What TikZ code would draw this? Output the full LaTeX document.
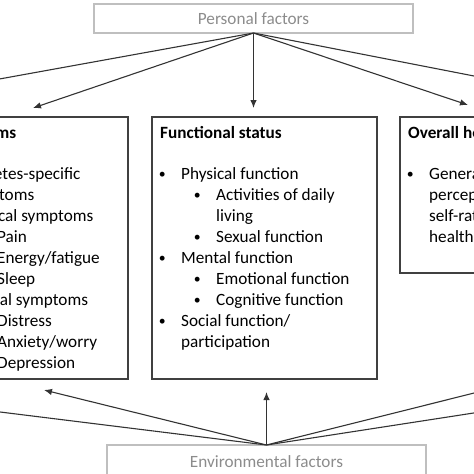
\documentclass[tikz,border=0pt]{standalone}
\usepackage{fontspec}
\setmainfont{Carlito}
\usepackage{tikz}
\usetikzlibrary{arrows.meta}
\definecolor{hqdark}{HTML}{404040}
\definecolor{hqline}{HTML}{333333}
\definecolor{factline}{HTML}{BFBFBF}
\definecolor{facttext}{HTML}{8C8C8C}
\newcommand{\bul}{\llap{\makebox[0pt]{\raisebox{1pt}{\scalebox{0.8}{\textbullet}}}\hspace{19pt}}}

\begin{document}
\begin{tikzpicture}[
  x=1pt,y=-1pt,
  font=\fontsize{17.2}{21.1}\selectfont,
  factor/.style={rectangle,draw=factline,line width=1.8pt,text=facttext,minimum width=319pt,inner sep=0pt,outer sep=0pt},
  hqbox/.style={rectangle,draw=hqdark,line width=1.4pt,inner sep=0pt,outer sep=0pt},
  hdr/.style={anchor=base west,inner sep=0pt,font=\fontsize{17.2}{21.1}\selectfont\bfseries},
  itm/.style={anchor=base west,inner sep=0pt},
  arr/.style={draw=hqline,line width=1.1pt,-{Latex[length=8pt,width=6.5pt]}},
]
\useasboundingbox (0,0) rectangle (474,474);
\clip (0,0) rectangle (474,474);

% factor boxes
\node[factor,minimum height=29pt] (pers) at (253.5,18.5) {Personal factors};
\node[factor,minimum height=33pt] (env) at (266.5,461.5) {Environmental factors};

% hrqol boxes
\node[hqbox,minimum width=195pt,minimum height=262pt] (sympt) at (30.5,248) {};
\node[hqbox,minimum width=225pt,minimum height=262pt] (func) at (264.5,248) {};
\node[hqbox,minimum width=200pt,minimum height=156pt] (overall) at (500,195) {};

% box texts
\node[hdr] (sympt-t) at (-59,138) {Symptoms};
\foreach \k/\dx/\t in {0/29/{\bul Diabetes-specific},1/29/symptoms,2/29/{\bul Physical symptoms},
    3/64/{\bul Pain},4/64/{\bul Energy/fatigue},5/64/{\bul Sleep},6/29/{\bul Mental symptoms},
    7/64/{\bul Distress},8/64/{\bul Anxiety/worry},9/64/{\bul Depression}}
  \node[itm] (sympt-\k) at (-67+\dx,179+21.1*\k) {\t};

\node[hdr] (func-t) at (160,138) {Functional status};
\foreach \k/\dx/\t in {0/29/{\bul Physical function},1/64/{\bul Activities of daily},2/64/living,
    3/64/{\bul Sexual function},4/29/{\bul Mental function},5/64/{\bul Emotional function},
    6/64/{\bul Cognitive function},7/29/{\bul Social function/},8/29/participation}
  \node[itm] (func-\k) at (152+\dx,179+21.1*\k) {\t};

\node[hdr] (overall-t) at (408,138) {Overall health};
\foreach \k/\t in {0/{\bul General health},1/{perceptions/},2/self-rated,3/health}
  \node[itm] (overall-\k) at (429,179+21.1*\k) {\t};

% arrow ends
\coordinate (symptT) at (33,108);
\coordinate (funcT) at (253.5,108);
\coordinate (overallT) at (468,105);
\coordinate (farL) at (-100,97);
\coordinate (farR) at (574,95.5);
\coordinate (symptB) at (44,390);
\coordinate (funcB) at (266.5,392);
\coordinate (envL) at (-100,399.6);
\coordinate (envR) at (574,368);
\coordinate (envRR) at (574,397.5);

% personal factors
\draw[arr] (pers.south) -- (farL);
\draw[arr] (pers.south) -- (symptT);
\draw[arr] (pers.south) -- (funcT);
\draw[arr] (pers.south) -- (overallT);
\draw[arr] (pers.south) -- (farR);

% environmental factors
\draw[arr] (env.north) -- (envL);
\draw[arr] (env.north) -- (symptB);
\draw[arr] (env.north) -- (funcB);
\draw[arr] (env.north) -- (envR);
\draw[arr] (env.north) -- (envRR);
\end{tikzpicture}
\end{document}
